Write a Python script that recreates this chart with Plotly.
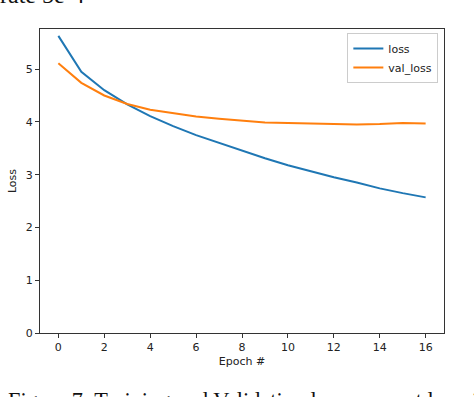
import plotly.graph_objects as go

epochs = list(range(17))
loss = [5.63, 4.95, 4.60, 4.33, 4.11, 3.92, 3.75, 3.60, 3.45, 3.31, 3.18, 3.06, 2.95, 2.85, 2.74, 2.65, 2.57]
val_loss = [5.11, 4.74, 4.50, 4.34, 4.23, 4.16, 4.10, 4.06, 4.03, 3.99, 3.98, 3.97, 3.96, 3.95, 3.96, 3.98, 3.97]
x_ticks = [0, 2, 4, 6, 8, 10, 12, 14, 16]
y_ticks = [0, 1, 2, 3, 4, 5]

fig = go.Figure()
fig.add_trace(go.Scatter(x=epochs, y=loss, mode="lines", name="loss",
                         line=dict(color="#1f77b4", width=2)))
fig.add_trace(go.Scatter(x=epochs, y=val_loss, mode="lines", name="val_loss",
                         line=dict(color="#ff7f0e", width=2)))

axis_common = dict(showline=True, linecolor="#333333", linewidth=1, mirror=True,
                   showgrid=False, zeroline=False, ticks="outside", ticklen=4,
                   tickcolor="#333333", tickfont=dict(size=11, color="#222222"))

fig.update_layout(
    width=474, height=397,
    margin=dict(l=36, r=30, t=29, b=64),
    paper_bgcolor="white", plot_bgcolor="white",
    font=dict(family="DejaVu Sans", size=11, color="#222222"),
    xaxis=dict(range=[-0.8, 16.8], tickvals=x_ticks,
               title=dict(text="Epoch #", font=dict(size=11), standoff=4), **axis_common),
    yaxis=dict(range=[0, 5.76], tickvals=y_ticks,
               title=dict(text="Loss", font=dict(size=11), standoff=6), **axis_common),
    legend=dict(x=0.986, y=0.987, xanchor="right", yanchor="top",
                bgcolor="white", bordercolor="#cccccc", borderwidth=1,
                font=dict(size=11, color="#222222"), tracegroupgap=0),
    showlegend=True,
)

fig.add_annotation(text="rate 5e-4", xref="paper", yref="paper",
                   x=-0.103, y=1.0, xanchor="left", yanchor="bottom", yshift=19,
                   showarrow=False, font=dict(family="Liberation Serif", size=24, color="#111111"))
fig.add_annotation(text="Figure 7: Training and Validation loss curve at learning",
                   xref="paper", yref="paper", x=-0.085, y=0, xanchor="left", yanchor="top",
                   yshift=-53, showarrow=False,
                   font=dict(family="Liberation Serif", size=22.3, color="#111111"))

fig.write_html("out.html", config={"displayModeBar": False},
               post_script="document.body.style.margin='0';document.body.style.padding='0';")
